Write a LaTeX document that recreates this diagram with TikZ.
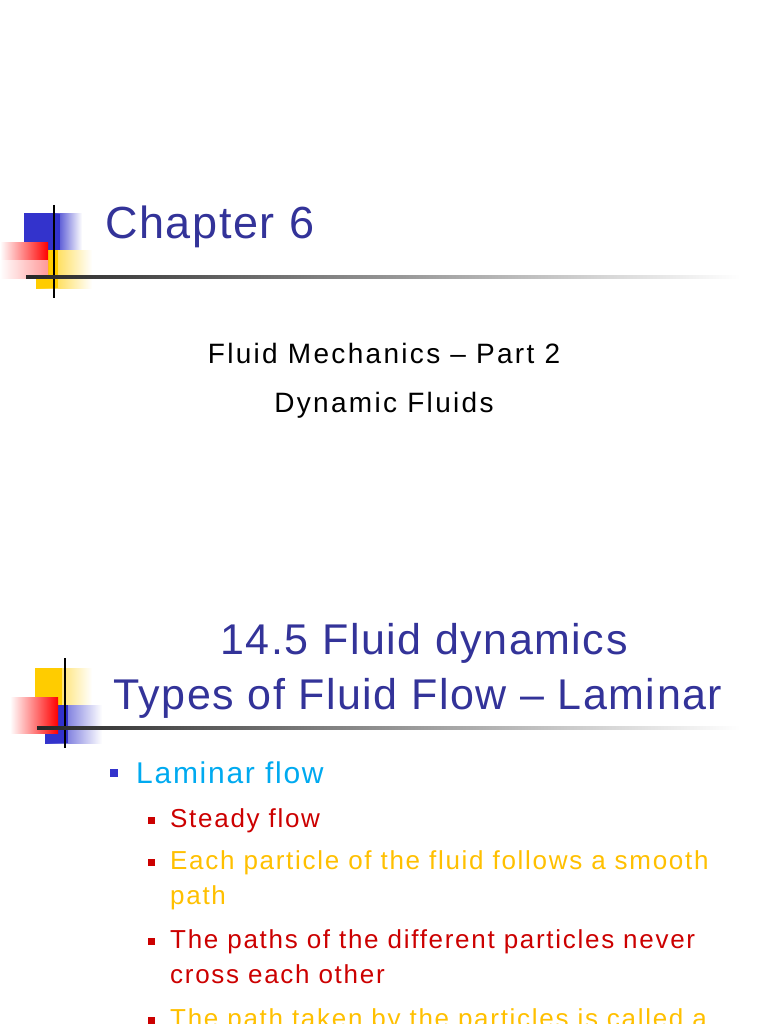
\documentclass[tikz,border=0pt]{standalone}
\usepackage{fontspec}
\setmainfont{Liberation Sans}
\newfontfamily\tA[LetterSpace=3.6]{Liberation Sans}
\newfontfamily\tB[LetterSpace=8.3]{Liberation Sans}
\newfontfamily\tC[LetterSpace=5.8]{Liberation Sans}
\newfontfamily\tD[LetterSpace=6.6]{Liberation Sans}
\definecolor{ttl}{RGB}{51,51,153}
\definecolor{lblue}{RGB}{0,170,240}
\definecolor{dred}{RGB}{204,0,0}
\definecolor{gold}{RGB}{255,192,0}
\definecolor{sqblue}{RGB}{51,51,204}
\definecolor{sqyel}{RGB}{255,204,0}
\begin{document}
\begin{tikzpicture}[x=1pt,y=-1pt,
  txt/.style={anchor=base west,inner sep=0pt},
  bul/.style={fill=sqblue,minimum size=8pt,inner sep=0pt},
  sbul/.style={fill=dred,minimum size=7pt,inner sep=0pt}]
\clip (0,0) rectangle (768,1024);
\fill[white] (0,0) rectangle (768,1024);
% logo 1
\shade[left color=sqblue,right color=white,middle color=sqblue] (24,214) rectangle (82,250);
\fill[sqblue] (24,214) rectangle (60,250);
\shade[left color=sqyel,right color=white] (36,250) rectangle (92,288);
\fill[sqyel] (36,250) rectangle (58,288);
\shade[left color=white,right color=red] (0,242) rectangle (48,278);
\shade[top color=red!0,bottom color=white,opacity=0.6] (0,260) rectangle (48,278);
\draw[line width=2.2pt] (54,205) -- (54,298);
\shade[left color=black!85,right color=white] (26,275) rectangle (740,278);
% logo 2
\shade[left color=sqyel,right color=white] (35,668) rectangle (92,705);
\fill[sqyel] (35,668) rectangle (62,705);
\shade[left color=sqblue,right color=white] (45,705) rectangle (102,743);
\fill[sqblue] (45,705) rectangle (68,743);
\shade[left color=white,right color=red] (10,697) rectangle (58,733);
\draw[line width=2.2pt] (65,658) -- (65,748);
\shade[left color=black!85,right color=white] (37,726) rectangle (740,729);
% texts
\node[txt,text=ttl,font=\tA\fontsize{45}{47}\selectfont] (ch) at (105,238) {Chapter 6};
\node[anchor=base,inner sep=0pt,font=\tB\fontsize{28}{30}\selectfont] (s1) at (384,363) {Fluid Mechanics – Part 2};
\node[anchor=base,inner sep=0pt,font=\tB\fontsize{28}{30}\selectfont] (s2) at (384,412) {Dynamic Fluids};
\node[anchor=base,inner sep=0pt,text=ttl,font=\tA\fontsize{43}{45}\selectfont] (t1) at (424,654) {14.5 Fluid dynamics};
\node[txt,text=ttl,font=\tA\fontsize{43}{45}\selectfont] (t2) at (113,709) {Types of Fluid Flow – Laminar};
\node[bul] (b0) at (114,773) {};
\node[txt,text=lblue,font=\tC\fontsize{30}{32}\selectfont] (l0) at (136,783) {Laminar flow};
\begin{scope}[font=\tD\fontsize{26}{28}\selectfont]
\node[sbul] (b1) at (151,820) {};
\node[txt,text=dred] (l1) at (170,827) {Steady flow};
\node[sbul] (b2) at (151,862) {};
\node[txt,text=gold] (l2) at (170,869) {Each particle of the fluid follows a smooth};
\node[txt,text=gold] (l2b) at (170,904) {path};
\node[sbul] (b3) at (151,941) {};
\node[txt,text=dred] (l3) at (170,948) {The paths of the different particles never};
\node[txt,text=dred] (l3b) at (170,983) {cross each other};
\node[sbul] (b4) at (151,1020) {};
\node[txt,text=gold] (l4) at (170,1027) {The path taken by the particles is called a};
\end{scope}
\end{tikzpicture}
\end{document}
